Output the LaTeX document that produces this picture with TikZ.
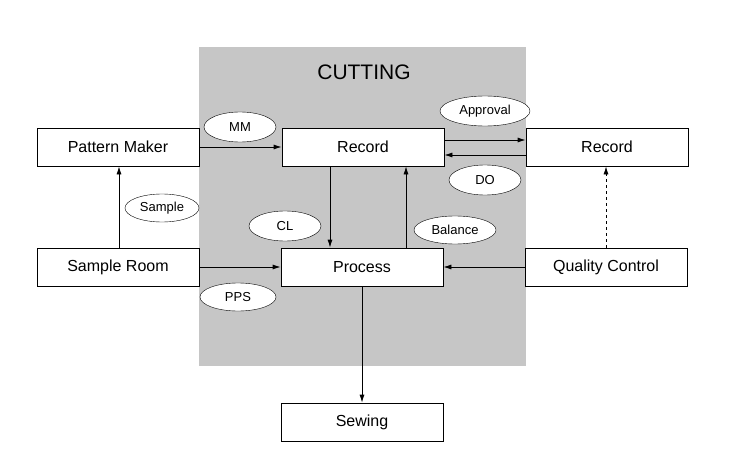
\documentclass[tikz,border=0pt]{standalone}
\usepackage{fontspec}
\setmainfont{Liberation Sans}
\usetikzlibrary{shapes.geometric,arrows.meta}
\begin{document}
\begin{tikzpicture}[x=1pt,y=-1pt,
  box/.style={draw,thick,minimum width=162pt,minimum height=38pt,inner sep=0pt,font=\fontsize{16}{18}\selectfont},
  ell/.style={draw,ellipse,fill=white,inner sep=0pt,font=\fontsize{13}{15}\selectfont},
  arr/.style={-{Latex[length=8pt,width=5pt]},thick}]
\useasboundingbox (0,0) rectangle (737,452);
\fill[gray!45] (199,47) rectangle (526,366);
\node[font=\fontsize{21}{24}\selectfont] (cut) at (364,72) {CUTTING};
\node[box,fill=white] (pm) at (118,147) {Pattern Maker};
\node[box,fill=white] (rc) at (363,147) {Record};
\node[box,fill=white] (rr) at (607,147) {Record};
\node[box,fill=white] (sr) at (118,267) {Sample Room};
\node[box,fill=white] (pr) at (362,267) {Process};
\node[box,fill=white] (qc) at (606,267) {Quality Control};
\node[box,fill=white] (sw) at (362,422) {Sewing};
\draw[arr] (pm) -- (rc);
\draw[arr] (rc.east |- 0,140) -- (rr.west |- 0,140);
\draw[arr] (rr.west |- 0,155) -- (rc.east |- 0,155);
\draw[arr] (rc.south -| 330,0) -- (pr.north -| 330,0);
\draw[arr] (pr.north -| 406,0) -- (rc.south -| 406,0);
\draw[arr] (sr) -- (pr);
\draw[arr] (qc) -- (pr);
\draw[arr] (sr.north -| 119,0) -- (pm.south -| 119,0);
\draw[arr,dashed] (qc.north -| 606,0) -- (rr.south -| 606,0);
\draw[arr] (pr) -- (sw);
\node[ell,minimum width=72pt,minimum height=30pt] (mm) at (240,127) {MM};
\node[ell,minimum width=90pt,minimum height=30pt] (ap) at (485,111) {Approval};
\node[ell,minimum width=72pt,minimum height=30pt] (do) at (485,180) {DO};
\node[ell,minimum width=74pt,minimum height=28pt] (sa) at (162,208) {Sample};
\node[ell,minimum width=72pt,minimum height=30pt] (cl) at (285,226) {CL};
\node[ell,minimum width=82pt,minimum height=28pt] (ba) at (455,230) {Balance};
\node[ell,minimum width=76pt,minimum height=28pt] (pps) at (238,297) {PPS};
\end{tikzpicture}
\end{document}
